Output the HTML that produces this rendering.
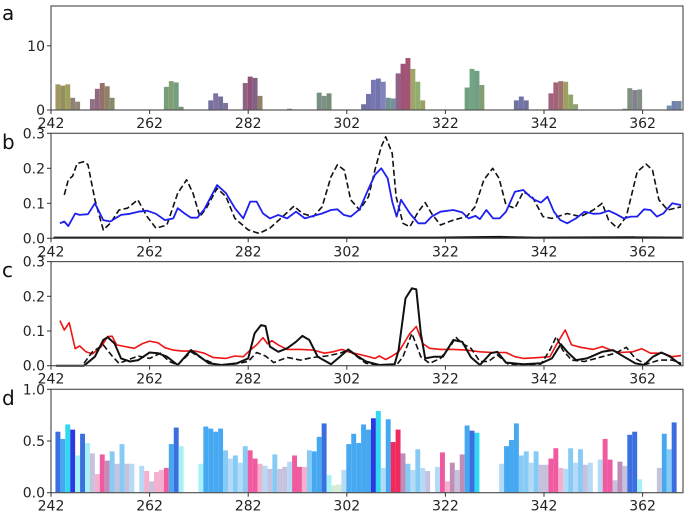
<!DOCTYPE html>
<html><head><meta charset="utf-8"><style>
html,body{margin:0;padding:0;background:#fff;}
svg{display:block;font-family:"DejaVu Sans","Liberation Sans",sans-serif;}
</style></head><body>
<svg id="chart" width="685" height="523" viewBox="0 0 685 523"></svg>
<script>
// ---------- data ----------
const xTicks = [242,262,282,302,322,342,362];
// panel a
const aRes = [243,244,245,246,247,250,251,252,253,254,265,266,267,268,274,275,276,277,281,282,283,284,290,296,297,298,305,306,307,308,309,310,311,312,313,314,315,316,317,326,327,328,329,336,337,338,342,343,344,345,346,347,348,358,359,360,361,367,368,369];
const aVal = [4.0,3.8,4.0,1.9,1.3,1.7,3.3,4.2,3.7,1.9,3.6,4.5,4.3,0.5,1.5,2.6,2.1,1.1,4.2,5.2,5.0,2.2,0.2,2.7,2.2,2.6,0.9,2.5,4.7,4.9,4.4,1.9,1.8,5.7,7.2,8.1,6.4,4.4,1.5,3.5,6.4,6.1,3.9,1.5,2.1,1.5,0.1,2.6,4.3,4.5,4.4,2.4,0.9,0.2,3.4,3.1,3.2,0.7,1.4,1.4];
const aCol = ["#9a9458","#8c8a58","#9a9a55","#8a7a6a","#8a8070","#8a6a80","#8a607a","#8d6a60","#8a7a60","#7a8a60","#6f9a70","#7a9a6a","#6f9a78","#7a8a70","#6a6a9a","#7a6aa0","#6a6a90","#7a6a98","#8a5a7a","#8a4a70","#7a5a80","#8a7a60","#8a8a8a","#6f8a7a","#7a8a80","#6f8a70","#6a6a9a","#6a6aa8","#7070b0","#6a6aa8","#7a7ab8","#6a8a8a","#6a8a9a","#8a5a80","#9a4a70","#a04a6a","#9aa060","#8aaa6a","#9a9a5a","#6a9a7a","#6aa07a","#6a9a80","#7a9a6a","#6a6a9a","#6a6aa8","#6a6a9a","#8a8a8a","#9a5a7a","#a05a70","#9a6a6a","#9a9a5a","#8aa060","#8a9a6a","#7a8a7a","#7a8a7a","#7a7a8a","#7a8a7a","#6a8aaa","#6a7aaa","#6a80a0"];
// panel b
const bBlueX = [243.8,244.7,245.5,246.9,247.8,249.5,250.9,252.6,254,256.2,258,259.7,261.5,263.3,265.1,266.8,267.7,269.1,270.4,271.7,273.1,275.7,277.5,279.3,281,282.4,283.7,285,286.4,288.1,289.9,291.7,293.5,295.2,297,298.8,300.1,301.4,302.8,304.6,306.3,307.7,309,310.3,311.2,312.1,313,314.8,316.5,317.9,319.2,321,323.6,325.4,326.7,328.1,329,330.3,331.7,333,334.3,336.1,337.8,339.2,340.1,341.4,342.7,344,345.3,346.7,348.5,350.2,352,353.4,355.1,356.5,358.2,359.6,360.9,362.3,363.6,364.9,366.2,368,369.8];
const bBlueY = [0.043,0.048,0.035,0.071,0.067,0.069,0.1,0.052,0.048,0.067,0.07,0.076,0.079,0.07,0.052,0.057,0.086,0.071,0.059,0.059,0.083,0.152,0.129,0.086,0.057,0.105,0.105,0.071,0.057,0.067,0.057,0.076,0.057,0.064,0.071,0.081,0.083,0.067,0.062,0.083,0.138,0.181,0.2,0.171,0.105,0.062,0.11,0.071,0.043,0.043,0.062,0.076,0.081,0.074,0.057,0.064,0.055,0.081,0.057,0.057,0.076,0.133,0.138,0.119,0.11,0.102,0.119,0.076,0.052,0.043,0.057,0.076,0.07,0.071,0.079,0.07,0.057,0.062,0.062,0.083,0.081,0.062,0.071,0.1,0.095];
const bDashX = [244.7,245.5,246.4,247.3,248.7,249.5,250.9,252.6,254,255.8,257.5,259.6,261.5,263.3,265.5,267.7,269.5,270.8,272.2,273.5,275.7,277.5,279.3,282,284.2,286.4,289,291.3,293,295.2,297,298.8,300.1,301.5,302.8,304.6,306.4,307.7,309,309.9,311.2,312,313.4,314.8,316.5,317.9,319.2,321,323.6,326.3,328,329.8,331.6,332.9,334.3,336.1,337.8,339.6,341.8,343.6,346.7,349.4,352,353.8,355.1,356.9,358.7,360.9,362.7,364,365.3,367.1,369.8];
const bDashY = [0.124,0.167,0.178,0.214,0.219,0.21,0.11,0.024,0.043,0.081,0.086,0.11,0.062,0.029,0.038,0.129,0.167,0.129,0.062,0.086,0.143,0.119,0.057,0.024,0.014,0.029,0.062,0.092,0.071,0.062,0.09,0.176,0.21,0.195,0.11,0.081,0.119,0.195,0.262,0.29,0.243,0.119,0.043,0.033,0.076,0.102,0.071,0.038,0.052,0.062,0.09,0.167,0.2,0.171,0.095,0.086,0.133,0.119,0.062,0.057,0.071,0.062,0.081,0.1,0.052,0.029,0.062,0.19,0.212,0.195,0.11,0.081,0.09];
const bBaseX = [242.5,280,320,333,340,360,370];
const bBaseY = [0.002,0.002,0.002,0.004,0.002,0.003,0.002];
// panel c
const cRedX = [243.8,244.7,245.7,246.9,247.8,249.1,250.4,252.2,253.5,254.4,255.3,257.1,258.9,260.6,262,263.7,265.1,266.8,268.6,271.3,273.1,274.8,277.5,279.3,281,282.4,283.7,285,285.9,286.8,288.1,289.9,292.6,295.2,297.5,299.2,301,302.3,304.1,305.9,307.7,308.6,309.9,311.2,312.5,313.4,314.8,316.1,317.4,318.8,321,323.6,326.3,329,331.6,334.3,336.1,337.8,340.5,343.2,344.5,346.3,347.6,349.4,352,353.8,355.6,357.3,360,361.8,363.6,366.2,368,369.8];
const cRedY = [0.13,0.103,0.124,0.049,0.057,0.04,0.034,0.055,0.084,0.085,0.06,0.055,0.05,0.064,0.071,0.066,0.052,0.045,0.042,0.042,0.036,0.024,0.021,0.028,0.026,0.045,0.06,0.081,0.063,0.072,0.06,0.047,0.047,0.045,0.036,0.04,0.047,0.04,0.034,0.028,0.021,0.028,0.018,0.028,0.04,0.06,0.093,0.113,0.064,0.05,0.047,0.047,0.045,0.04,0.038,0.038,0.026,0.021,0.023,0.026,0.06,0.103,0.06,0.053,0.047,0.055,0.045,0.038,0.04,0.049,0.036,0.036,0.026,0.029];
const cSolidX = [243,248.7,250.9,252.6,253.5,254.9,256.2,258,259.7,262,263.7,265.5,267.7,270.4,272.2,274,276.6,279.7,282,283.3,284.6,285.5,286.4,288.1,289.9,291.7,293,294.4,296.1,298.8,300.6,302.3,304.1,305.9,308.6,311.7,312.5,313.9,315.2,316.1,317,317.9,319.7,321.5,323.6,325.4,327.2,329,331.2,332.5,334.3,337.8,341.4,343.6,345.4,346.7,348.5,350.7,353.8,356,358.2,360.5,362.3,364.1,365.8,367.6,369.8];
const cSolidY = [0,0,0.026,0.074,0.082,0.064,0.021,0.012,0.016,0.038,0.036,0.026,0.002,0.045,0.026,0.007,0.002,0.007,0.021,0.093,0.117,0.114,0.055,0.04,0.05,0.069,0.086,0.074,0.026,0.004,0.026,0.047,0.028,0.012,0.002,0.004,0.045,0.194,0.223,0.22,0.093,0.021,0.026,0.026,0.074,0.069,0.024,0.002,0.036,0.04,0.009,0.004,0.007,0.021,0.062,0.04,0.016,0.021,0.04,0.045,0.026,0.007,0.002,0.026,0.038,0.026,0.002];
const cDashX = [248.7,250.4,252.6,254.4,255.8,257.5,259.7,262,264.2,266,267.7,270.4,272.6,275.7,279.3,282,283.7,285.5,287.2,289.9,292.6,295.2,297.9,300.6,302.3,304.1,305.9,308.6,312.1,313.4,315.2,317,318.8,321,323.2,324.1,325.4,327.2,329,330.7,332.5,334.7,337.8,341.4,343.2,344.5,345.8,347.6,350.2,353.8,356.5,358.7,360.5,362.7,365.3,368,369.8];
const cDashY = [0.007,0.04,0.06,0.028,0.007,0.016,0.028,0.021,0.036,0.012,0.002,0.04,0.021,0.002,0.005,0.012,0.038,0.028,0.009,0.024,0.016,0.024,0.028,0.036,0.045,0.026,0.007,0.002,0.002,0.026,0.093,0.026,0.007,0.021,0.06,0.082,0.064,0.05,0.012,0.012,0.031,0.005,0.002,0.005,0.045,0.084,0.045,0.016,0.012,0.026,0.036,0.053,0.021,0.004,0.016,0.016,0.007];
// panel d
const dStart = 243;
const dVal = [0.59,0.52,0.66,0.61,0.36,0.57,0.48,0.38,0.18,0.37,0.31,0.40,0.28,0.47,0.28,0.28,0,0.26,0.21,0.11,0.20,0.22,0.24,0.47,0.63,0.45,0,0,0,0.28,0.64,0.62,0.59,0.62,0.41,0.33,0.36,0.29,0.45,0.41,0.33,0.28,0.26,0.23,0.37,0.23,0.25,0.30,0.36,0.25,0.25,0.41,0.40,0.54,0.67,0.17,0.07,0.08,0.22,0.47,0.57,0.48,0.66,0.61,0.72,0.79,0.24,0.71,0.49,0.61,0.38,0.28,0.22,0.42,0.24,0.21,0,0.25,0.39,0.11,0.29,0.22,0.37,0.65,0.60,0.58,0,0,0,0,0.28,0.45,0.51,0.67,0.36,0.40,0.29,0.40,0.27,0.27,0.33,0.43,0.24,0.23,0.43,0.29,0.42,0.27,0.29,0,0.32,0.52,0.32,0.12,0.30,0.26,0.56,0.59,0.13,0,0,0,0.24,0.57,0.42,0.68];
const dCat = "BSCDcBcVkKMLVLVP0PkVkkKSBc000cSSSSLPLPLKKkPVLVVPKKkLSSBcGGPSSSSSDCPSRRMLPLPV0PKkMVMSBC0000PSSSLLPLVVKKkPLPLVP0PKKVMVBBc000VSLB";
const dPalette = {B:"#3b6fe0",D:"#2a3ae0",C:"#30d8f2",S:"#45a8f0",L:"#86cbf5",P:"#b4daf6",V:"#c6c2de",K:"#f05aa0",k:"#f4b0cc",M:"#c08cb8",R:"#f02a5e",G:"#d6ebd6",c:"#a6f0fa","0":"none"};

// ---------- drawing ----------
const NS = "http://www.w3.org/2000/svg";
const svg = document.getElementById('chart');
const X0 = 51, PXU = 4.93, XR = 683;
function sx(v){ return X0 + (v-242)*PXU; }
function mk(tag, attrs, parent){
  const e = document.createElementNS(NS, tag);
  for (const k in attrs) e.setAttribute(k, attrs[k]);
  (parent||svg).appendChild(e);
  return e;
}
function panel(name, top, bottom, ymax, yticks, fmt, letter, letterY){
  const g = mk('g', {});
  
  
  const sy = v => bottom - (v/ymax)*(bottom-top);
  const lt = mk('text', {x:2, y:letterY, 'font-size':20, fill:'#111'}, g);
  lt.textContent = letter;
  
  
  const plot = mk('g', {}, g);
  
  
  return {g, plot, sy, top, bottom, yticks, fmt, name};
}
function finish(p){
  const fr = mk('rect', {x:X0, y:p.top, width:XR-X0, height:p.bottom-p.top, fill:'none', stroke:'#555', 'stroke-width':1.2}, p.g);
  
  
  const xa = mk('g', {}, p.g);
  
  
  xTicks.forEach(t => {
    mk('line', {x1:sx(t), x2:sx(t), y1:p.bottom, y2:p.bottom+4, stroke:'#333', 'stroke-width':1}, xa);
    const tx = mk('text', {x:sx(t), y:p.bottom+18, 'font-size':14, fill:'#222', 'text-anchor':'middle'}, xa);
    tx.textContent = t;
    
    
  });
  const ya = mk('g', {}, p.g);
  
  
  p.yticks.forEach(t => {
    const y = p.sy(t);
    mk('line', {x1:X0-4, x2:X0, y1:y, y2:y, stroke:'#333', 'stroke-width':1}, ya);
    const tx = mk('text', {x:X0-6, y:y+5, 'font-size':14, fill:'#222', 'text-anchor':'end'}, ya);
    tx.textContent = p.fmt(t);
    
    
  });
}
function line(p, xs, ys, color, w, dash, name){
  let d = '';
  xs.forEach((x,i) => { d += (i?'L':'M') + sx(x).toFixed(1) + ',' + p.sy(ys[i]).toFixed(1); });
  const attrs = {d, fill:'none', stroke:color, 'stroke-width':w, 'stroke-linejoin':'round'};
  if (dash) attrs['stroke-dasharray'] = dash;
  const el = mk('path', attrs, p.plot);
  
  
}

// Panel a
const pa = panel('panel-a', 6, 110, 16.2, [0,10], v=>String(v), 'a', 20);
aRes.forEach((r,i) => {
  const y = pa.sy(aVal[i]);
  const b = mk('rect', {x:sx(r-0.1), y, width:PXU, height:pa.bottom-y, fill:aCol[i], opacity:0.95}, pa.plot);
  
  
});
finish(pa);

// Panel b
const pb = panel('panel-b', 133.3, 238.3, 0.3, [0,0.1,0.2,0.3], v=>v.toFixed(1), 'b', 149);
line(pb, bDashX, bDashY, '#111', 1.6, '6,3', 'dashed-line-b');
line(pb, bBlueX, bBlueY, '#1f1ff0', 1.8, null, 'blue-line-b');
line(pb, bBaseX, bBaseY, '#111', 2, null, 'baseline-line-b');
finish(pb);

// Panel c
const pc = panel('panel-c', 261.6, 365.7, 0.3, [0,0.1,0.2,0.3], v=>v.toFixed(1), 'c', 277);
line(pc, cRedX, cRedY, '#f01414', 1.6, null, 'red-line-c');
line(pc, cDashX, cDashY, '#111', 1.6, '6,3', 'dashed-line-c');
line(pc, cSolidX, cSolidY, '#111', 2, null, 'solid-line-c');
finish(pc);

// Panel d
const pd = panel('panel-d', 389.3, 492.7, 1.0, [0,0.5,1.0], v=>v.toFixed(1), 'd', 405);
dVal.forEach((v,i) => {
  const r = dStart + i;
  const col = dPalette[dCat[i]] || '#b4daf6';
  if (v <= 0 || col === 'none') return;
  const y = pd.sy(v);
  const b = mk('rect', {x:sx(r-0.1), y, width:PXU, height:pd.bottom-y, fill:col}, pd.plot);
  
  
});
finish(pd);
</script>
</body></html>
